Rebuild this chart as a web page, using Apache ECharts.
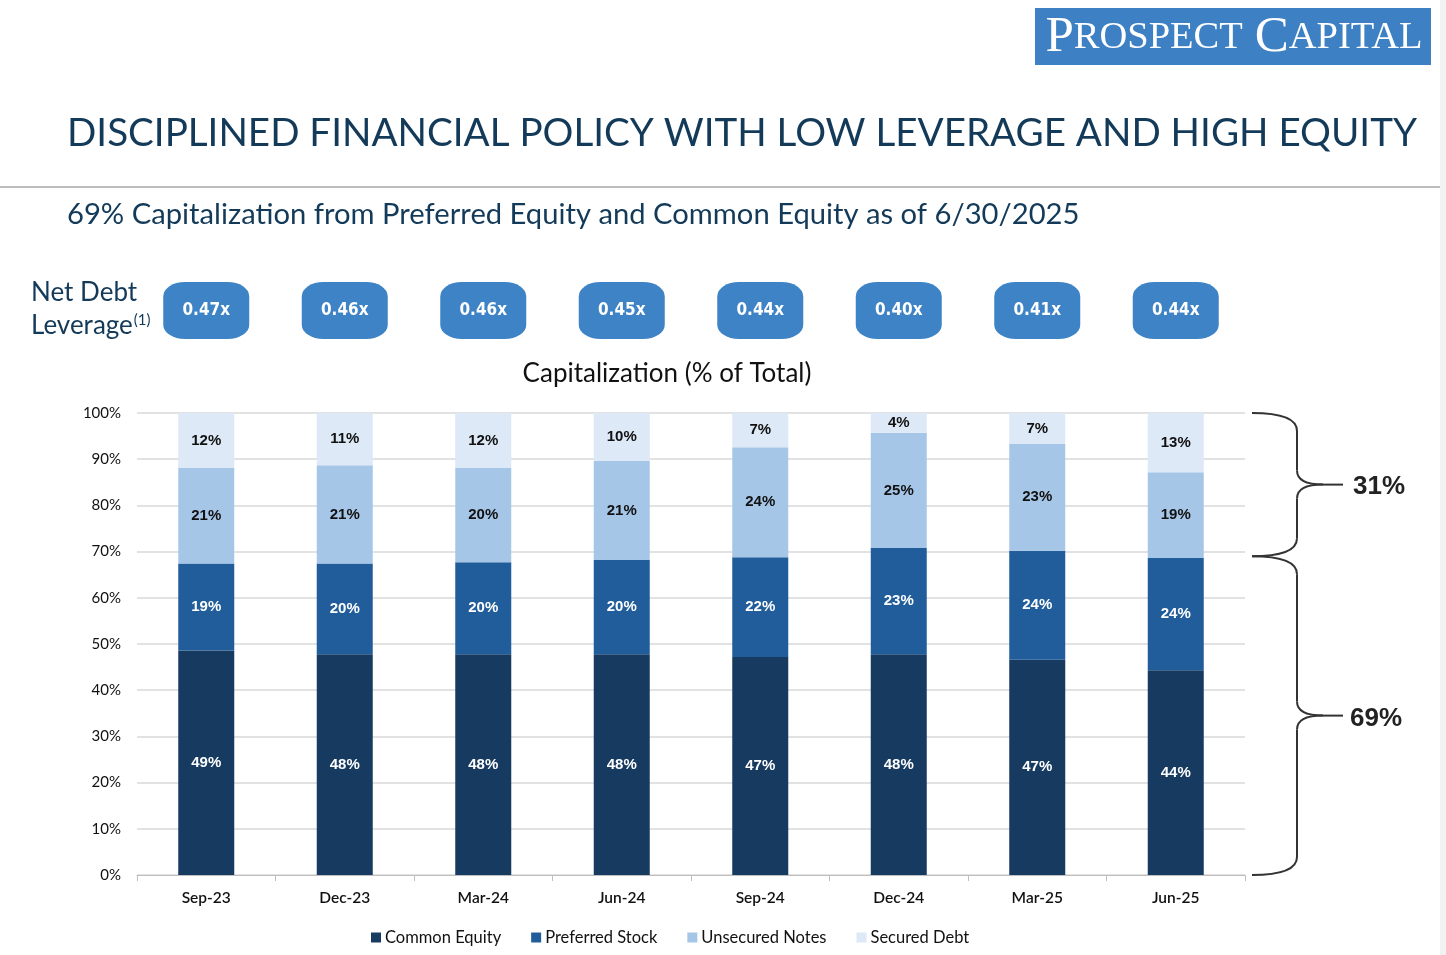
<!DOCTYPE html>
<html><head><meta charset="utf-8">
<script src="https://cdn.jsdelivr.net/npm/echarts@6/dist/echarts.min.js"></script>
<style>html,body{margin:0;padding:0;background:#fff}#c{width:1446px;height:955px}</style>
</head><body><div id="c"></div>
<script>
const categories = ['Sep-23','Dec-23','Mar-24','Jun-24','Sep-24','Dec-24','Mar-25','Jun-25'];
const commonEquity   = [48.6, 47.8, 47.8, 47.8, 47.2, 47.8, 46.6, 44.3];
const preferredStock = [18.8, 19.6, 19.9, 20.4, 21.6, 23.0, 23.6, 24.3];
const unsecuredNotes = [20.7, 21.3, 20.4, 21.4, 23.8, 24.9, 23.1, 18.6];
const securedDebt    = [11.9, 11.3, 11.9, 10.4,  7.4,  4.3,  6.7, 12.8];
const netDebtLeverage = [0.47, 0.46, 0.46, 0.45, 0.44, 0.40, 0.41, 0.44];
const equityShare = 69, debtShare = 31;

const chart = echarts.init(document.getElementById('c'), null, {renderer:'canvas'});
const F = 'Lato, "Open Sans", sans-serif';
const navy = '#133a59';
function mk(name, data, color, labelColor){
  return {name, type:'bar', stack:'cap', data, barWidth:56, xAxisIndex:0, yAxisIndex:0,
    itemStyle:{color},
    label:{show:true, position:'inside', formatter:p=>Math.round(p.value)+'%',
      color:labelColor, fontFamily:'"Liberation Sans", Arial, sans-serif', fontWeight:'bold', fontSize:15},
    emphasis:{disabled:true}};
}
const option = {
  animation:false,
  backgroundColor:'#fff',
  grid:[{left:137, right:201, top:413, bottom:80},
        {left:137, right:201, top:282, height:57}],
  xAxis:[{type:'category', data:categories, gridIndex:0,
    axisLine:{lineStyle:{color:'#bfbfbf', width:1}},
    axisTick:{show:true, length:6, lineStyle:{color:'#bfbfbf'}},
    axisLabel:{color:'#111', fontFamily:F, fontSize:15.5, fontWeight:600, margin:15}},
   {type:'category', data:categories, gridIndex:1, show:false}],
  yAxis:[{type:'value', min:0, max:100, interval:10, gridIndex:0,
    axisLabel:{formatter:'{value}%', color:'#111', fontFamily:F, fontSize:15, margin:16},
    axisLine:{show:false}, axisTick:{show:false},
    splitLine:{lineStyle:{color:'#d9d9d9', width:1.5}}},
   {type:'value', min:0, max:1, gridIndex:1, show:false}],
  legend:{left:366, bottom:4, icon:'rect', itemWidth:10, itemHeight:10, itemGap:30,
    textStyle:{fontFamily:F, fontSize:16.5, color:'#111', padding:[0,0,0,-1]},
    data:['Common Equity','Preferred Stock','Unsecured Notes','Secured Debt']},
  series:[
    mk('Common Equity', commonEquity, '#163a60', '#fff'),
    mk('Preferred Stock', preferredStock, '#215d9a', '#fff'),
    mk('Unsecured Notes', unsecuredNotes, '#a6c6e8', '#111'),
    mk('Secured Debt', securedDebt, '#dde9f6', '#111'),
    {type:'scatter', xAxisIndex:1, yAxisIndex:1, symbol:'roundRect', symbolSize:[86,57],
     data:netDebtLeverage.map((v,i)=>[i,0.5,v]), encode:{x:0,y:1},
     itemStyle:{color:'#3d83c5', opacity:1},
     label:{show:true, position:'inside', formatter:p=>p.value[2].toFixed(2)+'x',
       color:'#fff', fontFamily:'"DejaVu Sans Condensed","Liberation Sans Narrow",sans-serif', fontWeight:'bold', fontSize:17},
     emphasis:{disabled:true}, silent:true}
  ]
};
chart.setOption(option);

const yTop = chart.convertToPixel({yAxisIndex:0}, 100);
const yMid = chart.convertToPixel({yAxisIndex:0}, equityShare);
const yBot = chart.convertToPixel({yAxisIndex:0}, 0);
const bs = {stroke:'#333', lineWidth:2, fill:null};
function brace(y1, y2){
  const x0=1252, xv=1297, xt=1343, r=18, ym=(y1+y2)/2;
  return [
    {type:'bezierCurve', shape:{x1:x0,y1:y1,x2:xv,y2:y1+r,cpx1:xv,cpy1:y1}, style:bs},
    {type:'line', shape:{x1:xv,y1:y1+r,x2:xv,y2:ym-14}, style:bs},
    {type:'bezierCurve', shape:{x1:xv,y1:ym-14,x2:xv+26,y2:ym,cpx1:xv,cpy1:ym}, style:bs},
    {type:'line', shape:{x1:xv+26,y1:ym,x2:xt,y2:ym}, style:bs},
    {type:'bezierCurve', shape:{x1:xv+26,y1:ym,x2:xv,y2:ym+14,cpx1:xv,cpy1:ym}, style:bs},
    {type:'line', shape:{x1:xv,y1:ym+14,x2:xv,y2:y2-r}, style:bs},
    {type:'bezierCurve', shape:{x1:xv,y1:y2-r,x2:x0,y2:y2,cpx1:xv,cpy1:y2}, style:bs}
  ];
}
const serif = '"Liberation Serif","DejaVu Serif",serif';
chart.setOption({graphic:[
  {type:'rect', shape:{x:1035,y:8,width:396,height:57}, style:{fill:'#3d80c3'}},
  {type:'text', x:1234, y:38, style:{text:'{b|P}{s|ROSPECT}{g| }{b|C}{s|APITAL}', align:'center', verticalAlign:'middle',
    rich:{b:{fontFamily:serif, fontSize:51, fill:'#fff', color:'#fff'},
          s:{fontFamily:serif, fontSize:38.5, fill:'#fff', color:'#fff'},
          g:{fontFamily:serif, fontSize:38.5, width:12}}}},
  {type:'text', x:67, y:134, style:{text:'DISCIPLINED FINANCIAL POLICY WITH LOW LEVERAGE AND HIGH EQUITY',
    fontFamily:F, fontSize:38.6, fill:navy, verticalAlign:'middle'}},
  {type:'rect', shape:{x:0,y:186,width:1446,height:2}, style:{fill:'#bdbdbd'}},
  {type:'text', x:67, y:215, style:{text:'69% Capitalization from Preferred Equity and Common Equity as of 6/30/2025',
    fontFamily:F, fontSize:29.2, fill:navy, verticalAlign:'middle'}},
  {type:'text', x:31, y:293, style:{text:'Net Debt', fontFamily:F, fontSize:26, fill:navy, verticalAlign:'middle'}},
  {type:'text', x:31, y:326, style:{text:'Leverage{sup|(1)}', fontFamily:F, fontSize:26, fill:navy, verticalAlign:'middle',
    rich:{sup:{fontFamily:F, fontSize:15, fill:navy, color:navy, verticalAlign:'top', padding:[0,0,12,1]}}}},
  {type:'text', x:667, y:374, style:{text:'Capitalization (% of Total)', fontFamily:F, fontSize:26, fill:'#111', align:'center', verticalAlign:'middle'}},
  ...brace(yTop, yMid),
  ...brace(yMid, yBot),
  {type:'text', x:1353, y:(yTop+yMid)/2+2, style:{text:debtShare+'%', fontFamily:'"Liberation Sans",Arial,sans-serif', fontWeight:'bold', fontSize:26, fill:'#222', verticalAlign:'middle'}},
  {type:'text', x:1350, y:(yMid+yBot)/2+3, style:{text:equityShare+'%', fontFamily:'"Liberation Sans",Arial,sans-serif', fontWeight:'bold', fontSize:26, fill:'#222', verticalAlign:'middle'}},
  {type:'rect', shape:{x:1440,y:0,width:6,height:955}, style:{fill:'#f2f2f2'}}
]});
</script></body></html>
